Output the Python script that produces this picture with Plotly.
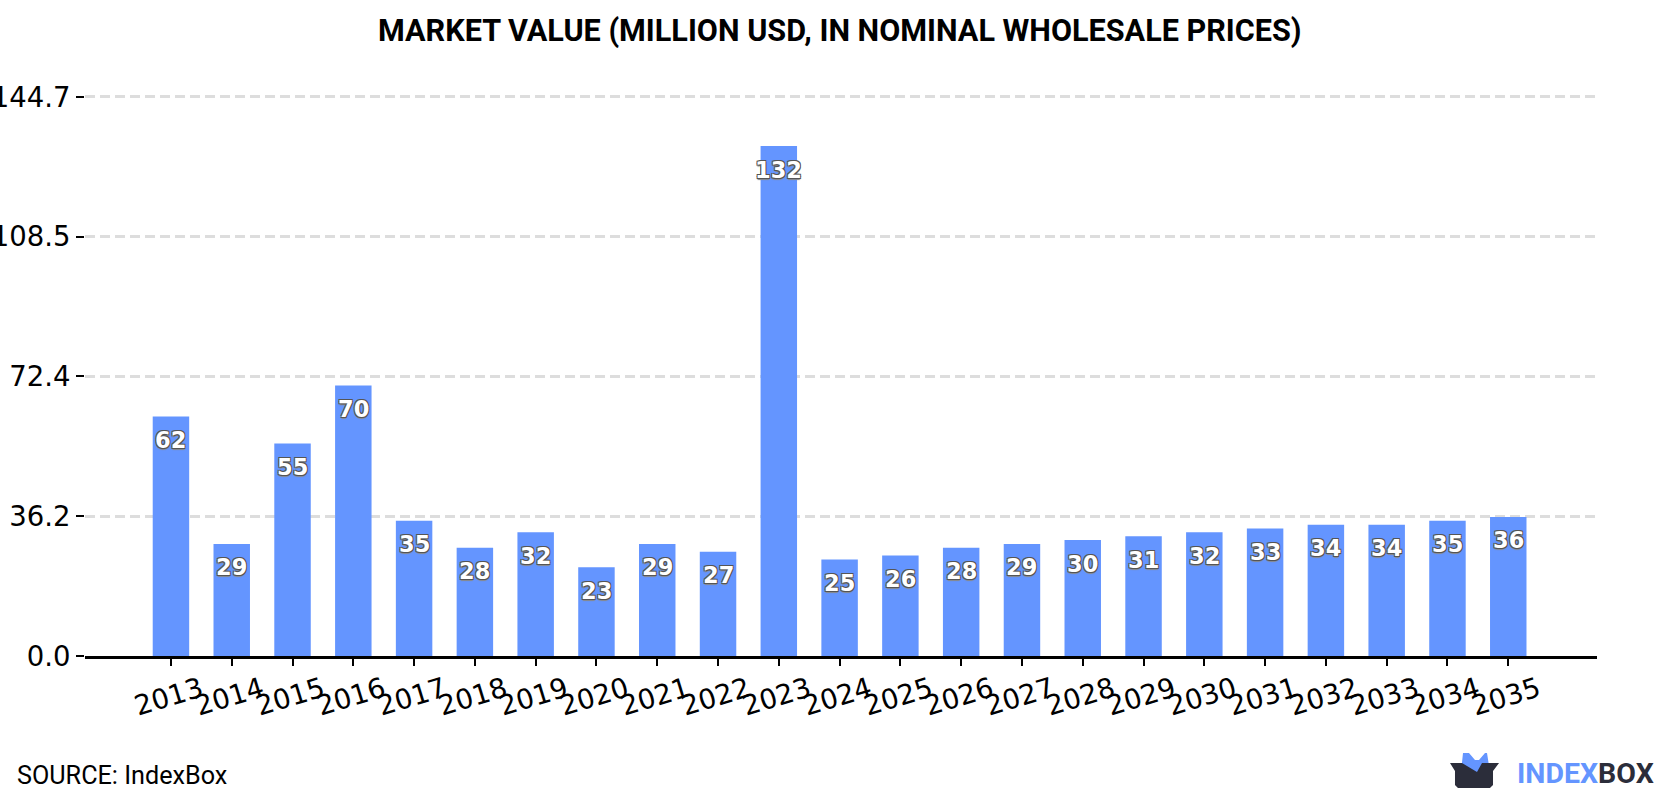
import plotly.graph_objects as go

years = [str(y) for y in range(2013, 2036)]
market_value = [62, 29, 55, 70, 35, 28, 32, 23, 29, 27, 132, 25, 26, 28, 29, 30, 31, 32, 33, 34, 34, 35, 36]
y_ticks = [0.0, 36.2, 72.4, 108.5, 144.7]
y_tick_labels = ["0.0", "36.2", "72.4", "108.5", "144.7"]

WIDTH, HEIGHT = 1680, 800
LEFT, RIGHT, TOP, BOTTOM = 85, 83, 94.8, 144
BLUE = "#6495FF"
DARK = "#2B2D3A"
LABEL_SHADOW = ("-1px -1px 0.5px #555, 1px -1px 0.5px #555, -1px 1px 0.5px #555, "
                "1px 1px 0.5px #555, 0 2px 1px #888")


def px(x):
    return (x - LEFT) / (WIDTH - LEFT - RIGHT)


def py(y):
    return (HEIGHT - BOTTOM - y) / (HEIGHT - TOP - BOTTOM)


def logo_path(points):
    return "M" + " L".join(f"{px(x):.5f},{py(y):.5f}" for x, y in points) + " Z"


fig = go.Figure(
    go.Bar(x=years, y=market_value, width=0.6, marker=dict(color=BLUE, line=dict(width=0)),
           hoverinfo="x+y")
)

# Value labels sit just under the top edge of each bar
annotations = [
    dict(x=i, y=value, xref="x", yref="y", yanchor="top", yshift=-8.5, showarrow=False,
         text=str(value),
         font=dict(family="DejaVu Sans", size=22.5, color="white", weight="bold", shadow=LABEL_SHADOW))
    for i, value in enumerate(market_value)
]
annotations += [
    dict(x=px(840), y=py(31), xref="paper", yref="paper", yanchor="middle", showarrow=False,
         text="<b>MARKET VALUE (MILLION USD, IN NOMINAL WHOLESALE PRICES)</b>",
         font=dict(family="Roboto", size=30.6, color="black")),
    dict(x=px(15), y=py(776), xref="paper", yref="paper", xanchor="left", yanchor="middle", showarrow=False,
         text="SOURCE: IndexBox", font=dict(family="Roboto", size=25.2, color="black")),
    dict(x=px(1515), y=py(774), xref="paper", yref="paper", xanchor="left", yanchor="middle", showarrow=False,
         text=f"<b><span style='color:{BLUE}'>INDEX</span>BOX</b>",
         font=dict(family="Roboto", size=28.5, color=DARK)),
]

# Box-shaped emblem beside the wordmark
shapes = [
    dict(type="path", xref="paper", yref="paper", line=dict(width=0), fillcolor=BLUE,
         path=logo_path([(1461, 772), (1463, 753), (1469, 753), (1475, 760), (1479, 760),
                         (1485, 753), (1487, 753), (1490, 772)])),
    dict(type="path", xref="paper", yref="paper", line=dict(width=0), fillcolor=DARK,
         path=logo_path([(1450, 763), (1462, 763), (1477, 772), (1482, 763), (1499, 763),
                         (1493, 771), (1493, 785), (1490, 788), (1458, 788), (1455, 785),
                         (1455, 771)])),
]

fig.update_layout(
    width=WIDTH, height=HEIGHT,
    margin=dict(l=LEFT, r=RIGHT, t=TOP, b=BOTTOM, autoexpand=False),
    paper_bgcolor="white", plot_bgcolor="white",
    showlegend=False, annotations=annotations, shapes=shapes,
    xaxis=dict(
        type="category", range=[-1.414, 23.46], tickangle=-17, ticklabelshift=30,
        ticklabelstandoff=-3,
        ticks="outside", ticklen=7, tickwidth=2, tickcolor="black",
        showline=True, linecolor="black", linewidth=3, showgrid=False,
        tickfont=dict(family="DejaVu Sans", size=27.5, color="black"),
    ),
    yaxis=dict(
        range=[0, 145.2], tickmode="array", tickvals=y_ticks, ticktext=y_tick_labels,
        ticks="outside", ticklen=8, tickwidth=2, tickcolor="black",
        showline=False, zeroline=False,
        showgrid=True, gridcolor="#DDDDDD", gridwidth=3, griddash="10px,5px",
        tickfont=dict(family="DejaVu Sans", size=27.5, color="black"),
    ),
)

fig.write_html("out.html")
